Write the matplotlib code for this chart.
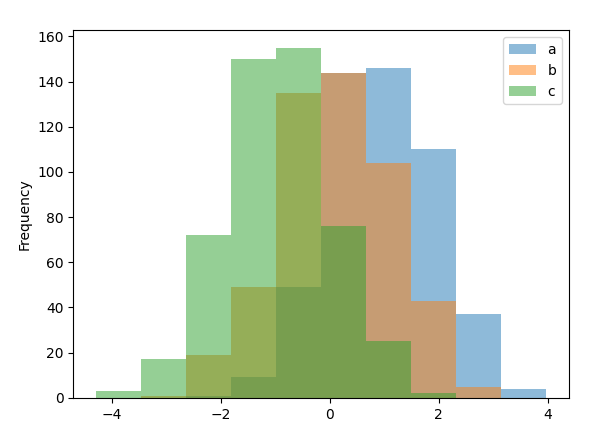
import numpy as np
import matplotlib.pyplot as plt

# bin edges shared by all three series
edges = np.linspace(-4.29, 3.97, 11)
a_counts = [0, 0, 1, 9, 49, 144, 146, 110, 37, 4]
b_counts = [0, 1, 19, 49, 135, 144, 104, 43, 5, 0]
c_counts = [3, 17, 72, 150, 155, 76, 25, 2, 0, 0]
names = ['a', 'b', 'c']

fig, ax = plt.subplots(figsize=(6, 4.44), dpi=100)
fig.subplots_adjust(left=0.122, right=0.948, top=0.932, bottom=0.104)
width = np.diff(edges)
for name, counts in zip(names, [a_counts, b_counts, c_counts]):
    ax.bar(edges[:-1], counts, width=width, align='edge', alpha=0.5, label=name)

ax.set_ylabel("Frequency")
ax.legend(loc='upper right')
plt.savefig("out.png")
